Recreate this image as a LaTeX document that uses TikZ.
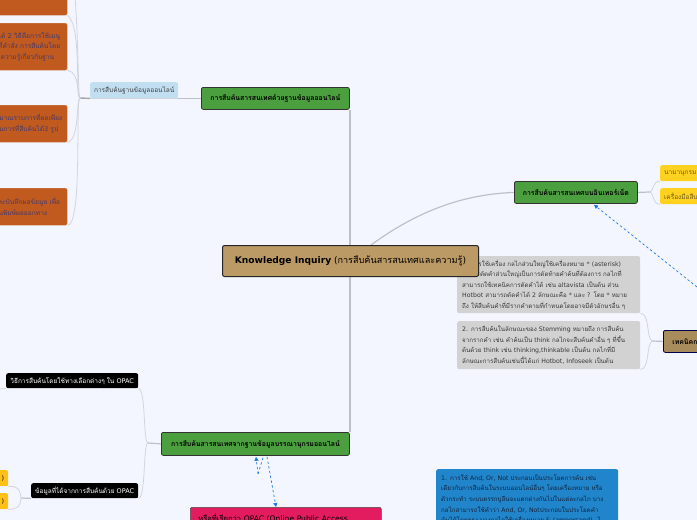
\documentclass[tikz,border=0pt]{standalone}
\usepackage{fontspec}
\setmainfont{DejaVu Sans}
\newfontfamily\thaifont[Script=Thai]{Loma}
\usetikzlibrary{arrows.meta,calc}
\pgfdeclarelayer{back}
\pgfsetlayers{back,main}
\newXeTeXintercharclass\thaiclass
\makeatletter
\count@="0E00
\loop\ifnum\count@<"0E80
  \XeTeXcharclass\count@=\thaiclass
  \advance\count@ by 1
\repeat
\makeatother
\XeTeXinterchartoks 0 \thaiclass={\thaifont}
\XeTeXinterchartoks 4095 \thaiclass={\thaifont}
\XeTeXinterchartoks \thaiclass 0={\rmfamily}
\XeTeXinterchartoks \thaiclass 4095={\rmfamily}
\XeTeXinterchartokenstate=1
\newcommand{\rpad}[1]{\rule{#1pt}{0pt}}
\definecolor{bgc}{HTML}{F4F6FF}
\definecolor{centerc}{HTML}{BC9A66}
\definecolor{greenc}{HTML}{4B9F3F}
\definecolor{redc}{HTML}{E31B5F}
\definecolor{orangec}{HTML}{C05A1E}
\definecolor{orangetxt}{HTML}{4A3A6A}
\definecolor{yellowtxt}{HTML}{6B5A20}
\definecolor{bluetxt}{HTML}{10253F}
\definecolor{lblue}{HTML}{C2DFF2}
\definecolor{yellowa}{HTML}{FFD21F}
\definecolor{yellowb}{HTML}{FFC018}
\definecolor{brownc}{HTML}{A98C5C}
\definecolor{greyc}{HTML}{D2D2D2}
\definecolor{blueb}{HTML}{2185CC}
\definecolor{linkc}{HTML}{D3D5DE}
\definecolor{dashc}{HTML}{1E78E0}
\tikzset{
  sized/.style 2 args={minimum width=#1pt,minimum height=#2pt,anchor=north west,inner sep=0pt,rounded corners=2pt},
  centernode/.style={fill=centerc,draw=black!85,line width=1pt,font=\fontsize{9.1}{11}\selectfont},
  greennode/.style={fill=greenc,draw=black!80,line width=.8pt,font=\fontsize{6.9}{9}\selectfont\bfseries,text=black},
  blacknode/.style={fill=black,font=\fontsize{6.5}{9}\selectfont,text=white},
  yellownode/.style={fill=yellowa,font=\fontsize{6.5}{9}\selectfont,text=yellowtxt,align=left,text width=80pt},
  smallyellow/.style={fill=yellowb,font=\fontsize{6.5}{9}\selectfont,align=right,text width=28pt},
  orangenode/.style={fill=orangec,draw=orangec!70!white,line width=.4pt,font=\fontsize{6.6}{10.5}\selectfont,text=orangetxt,align=right,text width=167pt},
  paragraphbox/.style={align=left,font=\fontsize{6.2}{10.6}\selectfont,inner xsep=5pt},
  mainlink/.style={draw=linkc!90!black,line width=1.6pt},
  thinlink/.style={draw=linkc,line width=.8pt},
  deplink/.style={draw=dashc,line width=.7pt,dashed,dash pattern=on 2.4pt off 2.4pt}
}
\begin{document}
\begin{tikzpicture}[x=1pt,y=-1pt]
\useasboundingbox (0,0) rectangle (697,520);
\clip (0,0) rectangle (697,520);
\begin{pgfonlayer}{back}
\fill[bgc] (0,0) rectangle (697,520);
\end{pgfonlayer}
% hubs and off-page ends
\coordinate (hubA) at (80,98);
\coordinate (hubB) at (148,443);
\coordinate (hubC) at (21,498);
\coordinate (hubD) at (650,192);
\coordinate (hubE) at (652,341);
\coordinate (farA) at (0,389);
\coordinate (farB) at (697,287);
\coordinate (farC) at (67,-60);
\coordinate (loop) at (258,474);
% green and main nodes
\node[sized={148}{22},greennode] (g1) at (201,87) {การสืบค้นสารสนเทศด้วยฐานข้อมูลออนไลน์};
\node[sized={123}{22},greennode] (g2) at (514,181) {การสืบค้นสารสนเทศบนอินเทอร์เน็ต};
\node[sized={188}{23},greennode] (g3) at (161,432) {การสืบค้นสารสนเทศจากฐานข้อมูลบรรณานุกรมออนไลน์};
\node[sized={88}{16},fill=lblue,font=\fontsize{6.5}{9}\selectfont,text=black!75] (lb) at (90,82) {การสืบค้นฐานข้อมูลออนไลน์};
% orange boxes
\node[sized={167}{35},orangenode] (o1) at (-100,-20) {};
\node[sized={167}{47},orangenode] (o2) at (-100,23) {ได้ 2 วิธีคือการใช้เมนู\rpad{7}\\ที่คำสั่ง การสืบค้นโดย\rpad{7}\\โดความรู้เกี่ยวกับฐาน\rpad{13}\\[6.5pt]};
\node[sized={167}{37},orangenode] (o3) at (-100,105) {มาณราบการที่ผลเพียง\rpad{5}\\นการที่สืบค้นได้3 รูป\rpad{9}\\[8pt]};
\node[sized={167}{37},orangenode] (o4) at (-100,188) {ละบันทึกผลข้อมูล เพื่อ\rpad{7}\\นพิมพ์ผลออกทาง\rpad{20}\\[9pt]};
% black nodes
\node[sized={132}{15},blacknode] (k1) at (6,373) {วิธีการสืบค้นโดยใช้ทางเลือกต่างๆ ใน OPAC};
\node[sized={107}{15},blacknode] (k2) at (31,483) {ข้อมูลที่ได้จากการสืบค้นด้วย OPAC};
\node[sized={28}{16},smallyellow] (y3) at (-20,470) {)\rpad{4}};
\node[sized={28}{16},smallyellow] (y4) at (-20,493) {)\rpad{4}};
% right side
\node[sized={80}{16},yellownode] (y1) at (660,165) {\hspace*{4pt}นามานุกรม};
\node[sized={80}{16},yellownode] (y2) at (660,188) {\hspace*{4pt}เครื่องมือสืบ};
\node[sized={80}{22},fill=brownc,draw=blue!30!black,line width=.8pt,font=\fontsize{6.9}{9}\selectfont\bfseries,align=left,text width=80pt] (br) at (663,330) {\hspace*{9pt}เทคนิคการสืบค้น};
% grey paragraphs
\node[sized={183}{57},fill=greyc,text=black!78,paragraphbox,text width=173pt] (p1) at (457,256) {%
1. การใช้เครื่อง กลไกส่วนใหญ่ใช้เครื่องหมาย * (asterisk)\\
ในการตัดคำส่วนใหญ่เป็นการตัดท้ายคำค้นที่ต้องการ กลไกที่\\
สามารถใช้เทคนิคการตัดคำได้ เช่น altavista เป็นต้น ส่วน\\
Hotbot สามารถตัดคำได้ 2 ลักษณะคือ * และ ? โดย * หมาย\\
ถึง ให้สืบค้นคำที่มีรากคำตามที่กำหนดโดยอาจมีตัวอักษรอื่น ๆ};
\node[sized={183}{48},fill=greyc,text=black!78,paragraphbox,text width=173pt] (p2) at (457,321) {%
2. การสืบค้นในลักษณะของ Stemming หมายถึง การสืบค้น\\
จากรากคำ เช่น คำค้นเป็น think กลไกจะสืบค้นคำอื่น ๆ ที่ขึ้น\\
ต้นด้วย think เช่น thinking,thinkable เป็นต้น กลไกที่มี\\
ลักษณะการสืบค้นเช่นนี้ได้แก่ Hotbot, Infoseek เป็นต้น};
\node[sized={182}{60},fill=blueb,text=bluetxt,paragraphbox,text width=172pt] (p3) at (436,469) {%
1. การใช้ And, Or, Not ประกอบเป็นประโยคการค้น เช่น\\
เดียวกับการสืบค้นในระบบออนไลน์อื่นๆ โดยเครื่องหมาย หรือ\\
ตัวกระทำ ระบบตรรกบูลีนจะแตกต่างกันไปในแต่ละกลไก บาง\\
กลไกสามารถใช้คำว่า And, Or, Notประกอบในประโยคคำ\\
ค้นได้โดยตรง บางกลไกใช้เครื่องหมาย \& (ampersand). ไ};
% red node
\node[sized={191}{40},fill=redc,draw=black!70,line width=.6pt,font=\fontsize{7.6}{10}\selectfont,inner xsep=8pt,align=left,text width=175pt] (r) at (190,507) {\leavevmode\smash{\raisebox{6pt}{หรือที่เรียกว่า OPAC (Online Public Access}}};
% centre node, over the grey box
\node[sized={256}{31},centernode] (c) at (222,245) {\textbf{Knowledge Inquiry} (การสืบค้นสารสนเทศและความรู้)};
\begin{pgfonlayer}{back}
\draw[mainlink] (c.north -| g1.east) -- (g1.south east);
\draw[mainlink] (c.south -| g3.east) -- (g3.north east);
\draw[mainlink,line width=1.2pt] ($(c.north east)+(-108,0)$) .. controls ($(c.north east)+(-60,-35)$) and ($(g2.west)+(-50,2)$) .. (g2.west);
\draw[thinlink] (lb.south west) -- (lb.south east);
\draw[draw=linkc!60!black!70,line width=1.4pt] (lb.south west) -- (hubA);
\draw[mainlink,line width=1.2pt] (lb.south east) -- (g1.west);
\draw[thinlink] (hubA) .. controls ++(-5,0) and (82,25) .. (o1.south east);
\draw[thinlink] (hubA) .. controls ++(-4,0) and (81,72) .. (o2.south east);
\draw[thinlink] (hubA) .. controls ++(-4,0) and (80,140) .. (o3.south east);
\draw[thinlink] (hubA) .. controls ++(-5,0) and (83,225) .. (o4.south east);
\draw[thinlink] (hubA) .. controls ++(-3,0) and (80,-10) .. (farC);
\draw[mainlink,line width=1.2pt] (g3.west) -- (hubB);
\draw[thinlink] (hubB) .. controls ++(-5,0) and (146,388) .. (k1.south east);
\draw[thinlink] (hubB) .. controls ++(-5,0) and (146,498) .. (k2.south east);
\draw[thinlink] (k1.south west) -- (farA);
\draw[mainlink,line width=1.2pt] (k2.south west) -- (hubC);
\draw[thinlink] (hubC) .. controls ++(-1,-9) and (18,486) .. (y3.south east);
\draw[thinlink] (hubC) .. controls ++(-1,9) and (18,509) .. (y4.south east);
\draw[mainlink,line width=1.2pt] (g2.east) -- (hubD);
\draw[thinlink] (hubD) .. controls ++(4,-1) and (652,181) .. (y1.south west);
\draw[thinlink] (hubD) .. controls ++(4,1) and (652,204) .. (y2.south west);
\draw[mainlink,line width=1.2pt] (br.west) -- (hubE);
\draw[thinlink] (hubE) .. controls ++(-6,-4) and (650,313) .. (p1.south east);
\draw[thinlink] (hubE) .. controls ++(-6,4) and (650,369) .. (p2.south east);
\end{pgfonlayer}
\draw[deplink,-{Triangle[length=4pt,width=4pt,fill=dashc]}] (farB) -- ($(g2.south west)+(80,1)$);
\draw[deplink,-{Triangle[length=4pt,width=4pt,fill=dashc]}] ($(g3.south west)+(106,1)$) -- ($(r.north west)+(86,0)$);
\draw[deplink,-{Triangle[length=4pt,width=4pt,fill=dashc]}] (loop) -- ($(g3.south west)+(95,1)$);
\draw[deplink] ($(g3.south west)+(102,2)$) -- (loop);
\end{tikzpicture}
\end{document}
